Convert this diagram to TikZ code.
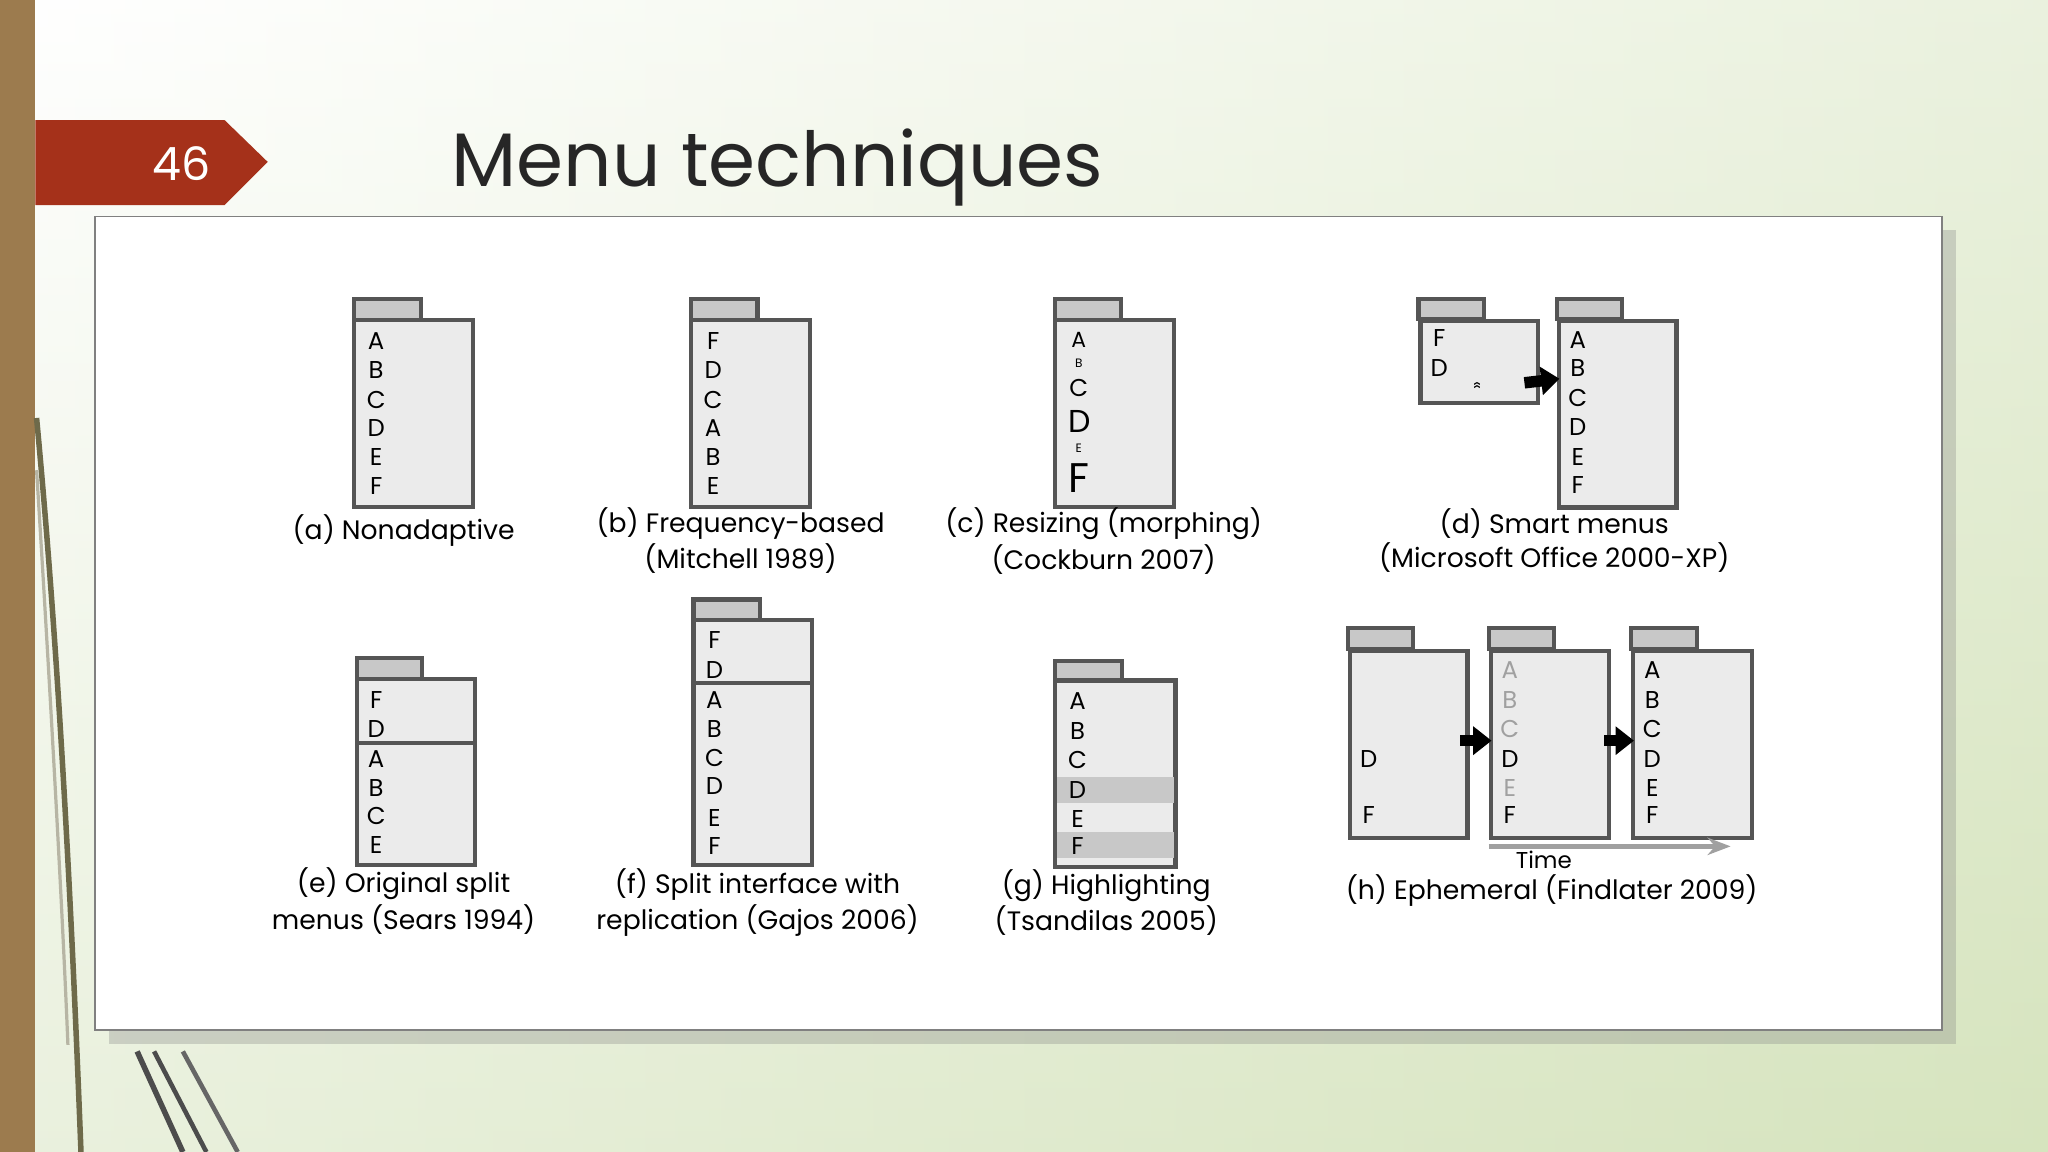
\documentclass[tikz,border=0pt]{standalone}
\usepackage{fontspec}
\setmainfont{Poppins}
\usetikzlibrary{arrows.meta,shadows}
\definecolor{brownbar}{HTML}{9C7B4E}
\definecolor{redtab}{HTML}{A5311A}
\definecolor{bodyg}{HTML}{EBEBEB}
\definecolor{tabg}{HTML}{C8C8C8}
\definecolor{edgeg}{HTML}{555555}
\definecolor{lite}{HTML}{A0A0A0}
\definecolor{strand}{HTML}{6E6A4A}
\tikzset{
 mbody/.style={draw=edgeg,line width=0.9pt,fill=bodyg},
 mtab/.style={draw=edgeg,line width=0.9pt,fill=tabg},
 lt/.style={font=\fontsize{5.3}{5.3}\selectfont,inner sep=0pt},
 capt/.style={font=\fontsize{5.8}{5.2}\selectfont,align=center,inner sep=0pt},
 bigarrow/.style={-{Triangle[length=4pt,width=6pt]},line width=2.5pt},
}
\begin{document}
\begin{tikzpicture}[x=0.01cm,y=-0.01cm]
\useasboundingbox (0,0) rectangle (1568,882);
\shade[left color=white,right color={rgb,255:red,214;green,228;blue,190}] (0,0) rectangle (1568,882);
\shade[top color=white,bottom color={rgb,255:red,214;green,228;blue,190},opacity=0.5] (0,0) rectangle (1568,882);
\fill[brownbar] (0,0) rectangle (27,882);
% strands
\draw[strand,line width=1.2pt] (28,320) .. controls (45,500) and (55,700) .. (62,882);
\draw[strand!50,line width=0.7pt] (28,360) .. controls (38,520) and (48,700) .. (52,800);
\draw[black!70,line width=1.2pt] (105,805) -- (140,882);
\draw[black!70,line width=1pt] (118,805) -- (158,882);
\draw[black!60,line width=1pt] (140,805) -- (182,882);
\fill[redtab] (27,92) -- (172,92) -- (205,124) -- (172,157) -- (27,157) -- cycle;
\node[text=white,font=\fontsize{10}{10}\selectfont] (num) at (139,125) {46};
\node[anchor=base west,font=\fontsize{16.5}{16.5}\selectfont,text=black!85,inner sep=0pt] (title) at (345,143) {Menu techniques};
% panel
\node[draw=gray,fill=white,minimum width=1414*0.01cm,minimum height=623*0.01cm,anchor=north west,inner sep=0pt,drop shadow={shadow xshift=3pt,shadow yshift=-3pt,opacity=0.3}] (panel) at (72,165) {};
% (a)
\draw[mtab] (271,229) rectangle (322,245);
\draw[mbody] (271,245) rectangle (362,388);
\foreach \l/\y in {A/261,B/283,C/306,D/328,E/350,F/372} \node[lt] at (288,\y) {\l};
\node[capt] (ca) at (309,406) {(a) Nonadaptive};
% (b)
\draw[mtab] (529,229) rectangle (580,245);
\draw[mbody] (529,245) rectangle (620,388);
\foreach \l/\y in {F/261,D/283,C/306,A/328,B/350,E/372} \node[lt] at (546,\y) {\l};
\node[capt] (cb) at (567,414) {(b) Frequency-based\\(Mitchell 1989)};
% (c)
\draw[mtab] (808,229) rectangle (858,245);
\draw[mbody] (808,245) rectangle (899,388);
\node[lt,scale=0.9] at (826,260) {A};
\node[lt,scale=0.5] at (826,278) {B};
\node[lt] at (826,297) {C};
\node[lt,scale=1.3] at (827,323) {D};
\node[lt,scale=0.5] at (826,343) {E};
\node[lt,scale=1.7] at (826,366) {F};
\node[capt] (cc) at (845,414) {(c) Resizing (morphing)\\(Cockburn 2007)};
% (d)
\draw[mtab] (1086,229) rectangle (1136,244);
\node[mbody,anchor=north west,minimum width=90*0.01cm,minimum height=63*0.01cm,inner sep=0pt] (d1) at (1086,244) {};
\node[lt] at (1102,259) {F};
\node[lt] at (1102,282) {D};
\node[lt,rotate=90,scale=0.7] at (1132,295) {»};
\draw[mtab] (1192,229) rectangle (1242,244);
\node[mbody,anchor=north west,minimum width=90*0.01cm,minimum height=143*0.01cm,inner sep=0pt] (d2) at (1192,244) {};
\foreach \l/\y in {A/260,B/282,C/305,D/327,E/350,F/371} \node[lt] at (1208,\y) {\l};
\draw[bigarrow] ([yshift=-0.16cm,xshift=-0.12cm]d1.east) -- ([xshift=0.02cm]d2.west |- 0,290);
\node[capt] (cd) at (1190,414) {(d) Smart menus\\(Microsoft Office 2000-XP)};
% (e)
\draw[mtab] (273,504) rectangle (323,520);
\draw[mbody] (273,520) rectangle (364,662);
\draw[edgeg,line width=0.8pt] (273,569) -- (364,569);
\foreach \l/\y in {F/536,D/558,A/581,B/603,C/625,E/647} \node[lt] at (288,\y) {\l};
\node[capt] (ce) at (309,690) {(e) Original split\\menus (Sears 1994)};
% (f)
\draw[mtab] (531,459) rectangle (582,475);
\draw[mbody] (531,475) rectangle (622,662);
\draw[edgeg,line width=0.8pt] (531,523) -- (622,523);
\foreach \l/\y in {F/490,D/513,A/536,B/558,C/580,D/602,E/626,F/648} \node[lt] at (547,\y) {\l};
\node[capt] (cf) at (580,691) {(f) Split interface with\\replication (Gajos 2006)};
% (g)
\draw[mtab] (808,506) rectangle (859,521);
\draw[mbody] (808,521) rectangle (900,664);
\fill[tabg] (809,595) rectangle (899,615);
\fill[tabg] (809,637) rectangle (899,657);
\foreach \l/\y in {A/537,B/560,C/582,D/605,E/627,F/648} \node[lt] at (825,\y) {\l};
\node[capt] (cg) at (847,691) {(g) Highlighting\\(Tsandilas 2005)};
% (h)
\draw[mtab] (1032,481) rectangle (1082,497);
\node[mbody,anchor=north west,minimum width=90*0.01cm,minimum height=143*0.01cm,inner sep=0pt] (h1) at (1032,497) {};
\node[lt] at (1048,581) {D};
\node[lt] at (1048,624) {F};
\draw[mtab] (1140,481) rectangle (1190,497);
\node[mbody,anchor=north west,minimum width=90*0.01cm,minimum height=143*0.01cm,inner sep=0pt] (h2) at (1140,497) {};
\foreach \l/\y/\c in {A/513/lite,B/536/lite,C/558/lite,D/581/black,E/603/lite,F/624/black} \node[lt,text=\c] at (1156,\y) {\l};
\draw[mtab] (1249,481) rectangle (1299,497);
\node[mbody,anchor=north west,minimum width=91*0.01cm,minimum height=143*0.01cm,inner sep=0pt] (h3) at (1249,497) {};
\foreach \l/\y in {A/513,B/536,C/558,D/581,E/603,F/624} \node[lt] at (1265,\y) {\l};
\draw[bigarrow] ([xshift=-0.07cm,yshift=0.03cm]h1.east) -- ([xshift=0.02cm,yshift=0.03cm]h2.west);
\draw[bigarrow] ([xshift=-0.05cm,yshift=0.03cm]h2.east) -- ([xshift=0.02cm,yshift=0.03cm]h3.west);
\coordinate (t0) at (1140,648);
\coordinate (t1) at (1325,648);
\draw[lite,line width=1pt,-{Stealth[length=5pt]}] (t0) -- (t1);
\node[lt,font=\fontsize{5}{5}\selectfont] (time) at (1182,658) {Time};
\node[capt] (ch) at (1188,682) {(h) Ephemeral (Findlater 2009)};
\end{tikzpicture}
\end{document}
